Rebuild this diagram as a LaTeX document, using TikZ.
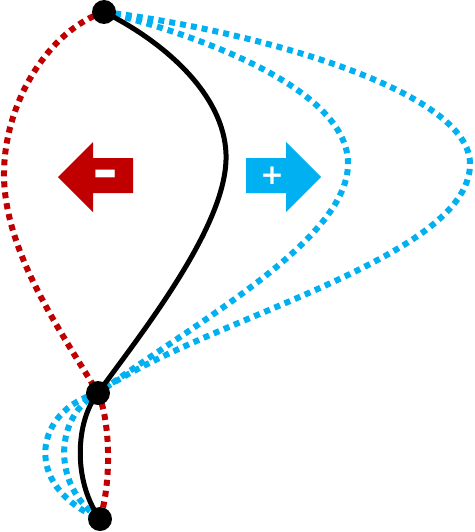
\documentclass[tikz,border=0pt]{standalone}
\usepackage{fontspec}
\newfontfamily\signfont{DejaVu Sans}
\definecolor{myred}{HTML}{C00000}
\definecolor{myblue}{HTML}{00B0F0}
\begin{document}
\begin{tikzpicture}[x=1pt,y=-1pt,
  dotline/.style={line width=6pt,dash pattern=on 6pt off 5pt},
  redline/.style={dotline,draw=myred},
  blueline/.style={dotline,draw=myblue},
  solidline/.style={line width=5pt,draw=black},
  dotnode/.style={circle,fill=black,minimum size=24pt,inner sep=0pt},
  signtext/.style={text=white,inner sep=0pt}]
\useasboundingbox (0,0) rectangle (474,532);
\coordinate (top) at (104,12);
\coordinate (mid) at (98,393);
\coordinate (bot) at (100,519);
\coordinate (rr) at (4,172);
\coordinate (bi) at (348,165);
\coordinate (bo) at (470,165);
\coordinate (br) at (226,160);
% red dotted
\draw[redline] (top) .. controls (50,30) and (5,100) .. (rr) .. controls (3,250) and (60,330) .. (mid);
\draw[redline] (mid) .. controls (110,420) and (112,480) .. (bot);
% blue dotted
\draw[blueline] (top) .. controls (200,35) and (350,90) .. (bi) .. controls (346,240) and (200,320) .. (mid);
\draw[blueline] (mid) .. controls (55,415) and (50,485) .. (bot);
\draw[blueline] (top) .. controls (250,30) and (472,90) .. (bo) .. controls (468,260) and (200,320) .. (mid);
\draw[blueline] (mid) .. controls (35,410) and (20,485) .. (bot);
% black solid
\draw[solidline] (top) .. controls (170,45) and (228,100) .. (br) .. controls (224,230) and (140,335) .. (mid);
\draw[solidline] (mid) .. controls (76,420) and (72,480) .. (bot);
% dots
\node[dotnode] (topdot) at (top) {};
\node[dotnode] (middot) at (mid) {};
\node[dotnode] (botdot) at (bot) {};
% arrows
\fill[myred] (58,177) -- (93,142) -- (93,158) -- (133,158) -- (133,193) -- (93,193) -- (93,212) -- cycle;
\fill[myblue] (246,158) -- (286,158) -- (286,142) -- (321,177) -- (286,212) -- (286,193) -- (246,193) -- cycle;
\node[signtext,font=\signfont\bfseries\fontsize{30}{30}\selectfont] (minus) at (106,180) {\scalebox{2.1}[1.8]{-}};
\node[signtext,font=\signfont\bfseries\fontsize{28}{28}\selectfont] (plus) at (272,176) {+};
\end{tikzpicture}
\end{document}
